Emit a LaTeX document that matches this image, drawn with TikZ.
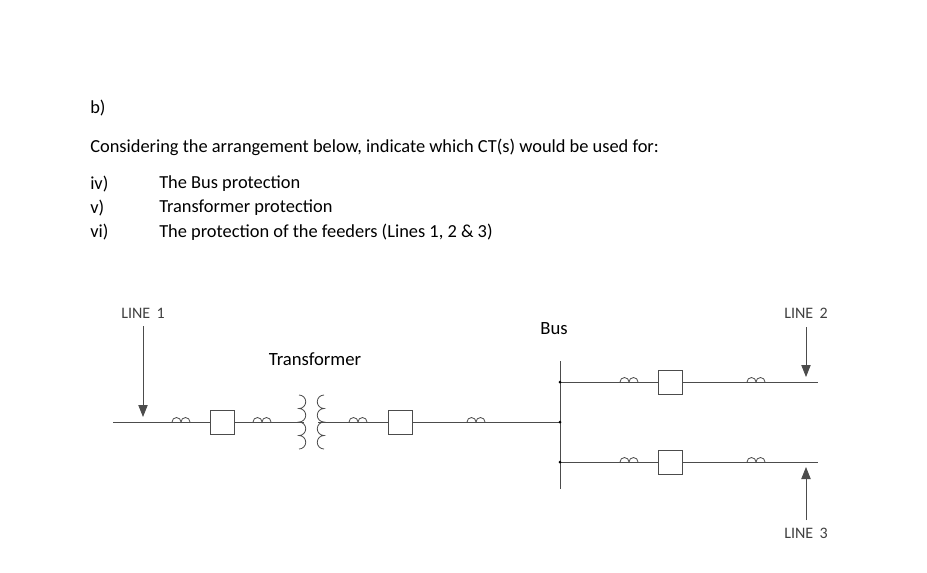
\documentclass[tikz,border=0pt]{standalone}
\usepackage{fontspec}
\setmainfont{Carlito}
\usetikzlibrary{arrows.meta}
\begin{document}
\begin{tikzpicture}[x=0.75pt,y=-0.75pt,
  wire/.style={draw=black!70,line width=0.6pt},
  brk/.style={draw=black!70,line width=0.6pt,fill=white,minimum size=18pt,inner sep=0pt},
  arr/.style={draw=black!70,line width=0.6pt,-{Triangle[length=9pt,width=7pt]}},
  lbl/.style={font=\fontsize{12}{14}\selectfont,text=black!75},
  txt/.style={font=\fontsize{13.8}{16}\selectfont,anchor=west,inner sep=0pt}]
\useasboundingbox (0,0) rectangle (927,572);
\newcommand{\ctsym}[2]{\draw[black!70,line width=0.6pt] (#1-9,#2) arc(180:360:4.5) arc(180:360:4.5);}
% text
\node[txt] (b) at (90,108) {b)};
\node[txt] (q) at (90,147) {Considering the arrangement below, indicate which CT(s) would be used for:};
\node[txt] (r1) at (90,184) {iv)}; \node[txt] (t1) at (159,184) {The Bus protection};
\node[txt] (r2) at (90,208) {v)}; \node[txt] (t2) at (159,208) {Transformer protection};
\node[txt] (r3) at (90,232) {vi)}; \node[txt] (t3) at (159,232) {The protection of the feeders (Lines 1, 2 \& 3)};
\node[lbl] (l1) at (143,313) {LINE\, 1};
\node[lbl] (l2) at (806,313) {LINE\, 2};
\node[lbl] (l3) at (806,533) {LINE\, 3};
\node[font=\fontsize{14}{16}\selectfont] (bus) at (554,329) {Bus};
\node[font=\fontsize{14}{16}\selectfont] (tr) at (315,359) {Transformer};
% coordinates
\coordinate (m0) at (113,422); \coordinate (tl) at (304,422); \coordinate (tr2) at (318,422);
\coordinate (bj) at (560,422); \coordinate (bt) at (560,361); \coordinate (bb) at (560,489);
\coordinate (u0) at (560,382); \coordinate (u1) at (818,382);
\coordinate (d0) at (560,462); \coordinate (d1) at (818,462);
\draw[wire] (m0) -- (tl); \draw[wire] (tr2) -- (bj);
\draw[wire] (bt) -- (bb); \draw[wire] (u0) -- (u1); \draw[wire] (d0) -- (d1);
\foreach \p in {u0,bj,d0} \fill (\p) circle (1.5);
% breakers
\node[brk] (cb1) at (222,422) {};
\node[brk] (cb2) at (400,422) {};
\node[brk] (cb3) at (670,382) {};
\node[brk] (cb4) at (670,462) {};
% CTs
\ctsym{181}{422}\ctsym{262}{422}\ctsym{358}{422}\ctsym{476}{422}
\ctsym{629}{382}\ctsym{756}{382}\ctsym{629}{462}\ctsym{756}{462}
% transformer
\draw[black!70,line width=0.6pt] (299,395) arc(-90:90:6.75) arc(-90:90:6.75) arc(-90:90:6.75) arc(-90:90:6.75);
\draw[black!70,line width=0.6pt] (324,395) arc(-90:-270:6.75) arc(-90:-270:6.75) arc(-90:-270:6.75) arc(-90:-270:6.75);
% arrows
\coordinate (a1s) at (143,326); \coordinate (a1e) at (143,417);
\coordinate (a2s) at (806,327); \coordinate (a2e) at (806,377);
\coordinate (a3s) at (806,520); \coordinate (a3e) at (806,467);
\draw[arr] (a1s) -- (a1e); \draw[arr] (a2s) -- (a2e); \draw[arr] (a3s) -- (a3e);
\end{tikzpicture}
\end{document}
